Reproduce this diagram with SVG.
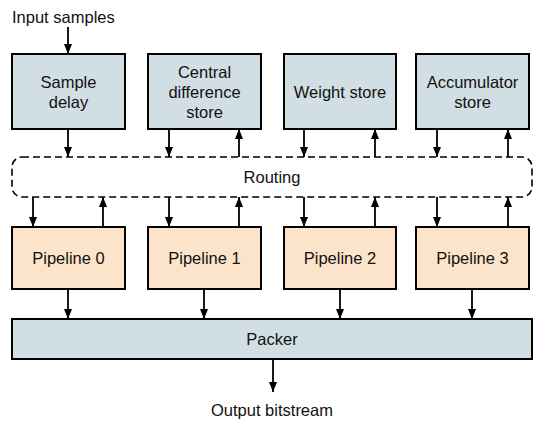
<svg xmlns="http://www.w3.org/2000/svg" width="550" height="428" viewBox="0 0 550 428">
<defs>
<marker id="ah" markerWidth="10" markerHeight="8" refX="10" refY="4" orient="auto" markerUnits="userSpaceOnUse" viewBox="0 0 10 8">
<path d="M0,0 L10,4 L0,8 Z" fill="#000"/>
</marker>
<style>
text{font-family:"Liberation Sans",Arial,sans-serif;font-size:16.5px;fill:#111;text-anchor:middle}
.store{fill:#d1dee3;stroke:#000;stroke-width:2}
.pipe{fill:#fce4cb;stroke:#000;stroke-width:2}
.route{fill:#fff;stroke:#000;stroke-width:1.6;stroke-dasharray:7 4}
.c line{stroke:#000;stroke-width:1.8;marker-end:url(#ah)}
</style>
</defs>
<rect width="550" height="428" fill="#fff"/>
<g id="routing">
<rect class="route" x="12" y="157" width="520" height="40" rx="10"/>
<text x="272" y="183">Routing</text>
</g>
<g id="sample-delay">
<rect class="store" x="12" y="54" width="113" height="75"/>
<text x="68.5" y="88">Sample</text>
<text x="68.5" y="108">delay</text>
</g>
<g id="central-difference-store">
<rect class="store" x="148" y="54" width="113" height="75"/>
<text x="204.5" y="78">Central</text>
<text x="204.5" y="98">difference</text>
<text x="204.5" y="118">store</text>
</g>
<g id="weight-store">
<rect class="store" x="284" y="54" width="112" height="75"/>
<text x="340" y="98">Weight store</text>
</g>
<g id="accumulator-store">
<rect class="store" x="416" y="54" width="113" height="75"/>
<text x="472.5" y="88">Accumulator</text>
<text x="472.5" y="108">store</text>
</g>
<g id="pipeline-0">
<rect class="pipe" x="12" y="227" width="113" height="62"/>
<text x="68.5" y="264">Pipeline 0</text>
</g>
<g id="pipeline-1">
<rect class="pipe" x="148" y="227" width="113" height="62"/>
<text x="204.5" y="264">Pipeline 1</text>
</g>
<g id="pipeline-2">
<rect class="pipe" x="284" y="227" width="112" height="62"/>
<text x="340" y="264">Pipeline 2</text>
</g>
<g id="pipeline-3">
<rect class="pipe" x="416" y="227" width="113" height="62"/>
<text x="472.5" y="264">Pipeline 3</text>
</g>
<g id="packer">
<rect class="store" x="12" y="319" width="520" height="40"/>
<text x="272" y="345">Packer</text>
</g>
<g id="input-label"><text x="12" y="23" style="text-anchor:start">Input samples</text></g>
<g id="output-label"><text x="272" y="416">Output bitstream</text></g>
<g id="connectors" class="c">
<line x1="68" y1="27" x2="68" y2="54"/>
<line x1="68" y1="129" x2="68" y2="157"/>
<line x1="169" y1="129" x2="169" y2="157"/>
<line x1="239" y1="157" x2="239" y2="129"/>
<line x1="304" y1="129" x2="304" y2="157"/>
<line x1="375" y1="157" x2="375" y2="129"/>
<line x1="437" y1="129" x2="437" y2="157"/>
<line x1="508" y1="157" x2="508" y2="129"/>
<line x1="33" y1="197" x2="33" y2="227"/>
<line x1="103" y1="227" x2="103" y2="197"/>
<line x1="169" y1="197" x2="169" y2="227"/>
<line x1="239" y1="227" x2="239" y2="197"/>
<line x1="304" y1="197" x2="304" y2="227"/>
<line x1="375" y1="227" x2="375" y2="197"/>
<line x1="437" y1="197" x2="437" y2="227"/>
<line x1="508" y1="227" x2="508" y2="197"/>
<line x1="68" y1="289" x2="68" y2="319"/>
<line x1="204" y1="289" x2="204" y2="319"/>
<line x1="340" y1="289" x2="340" y2="319"/>
<line x1="472" y1="289" x2="472" y2="319"/>
<line x1="273" y1="359" x2="273" y2="392"/>
</g>
</svg>
